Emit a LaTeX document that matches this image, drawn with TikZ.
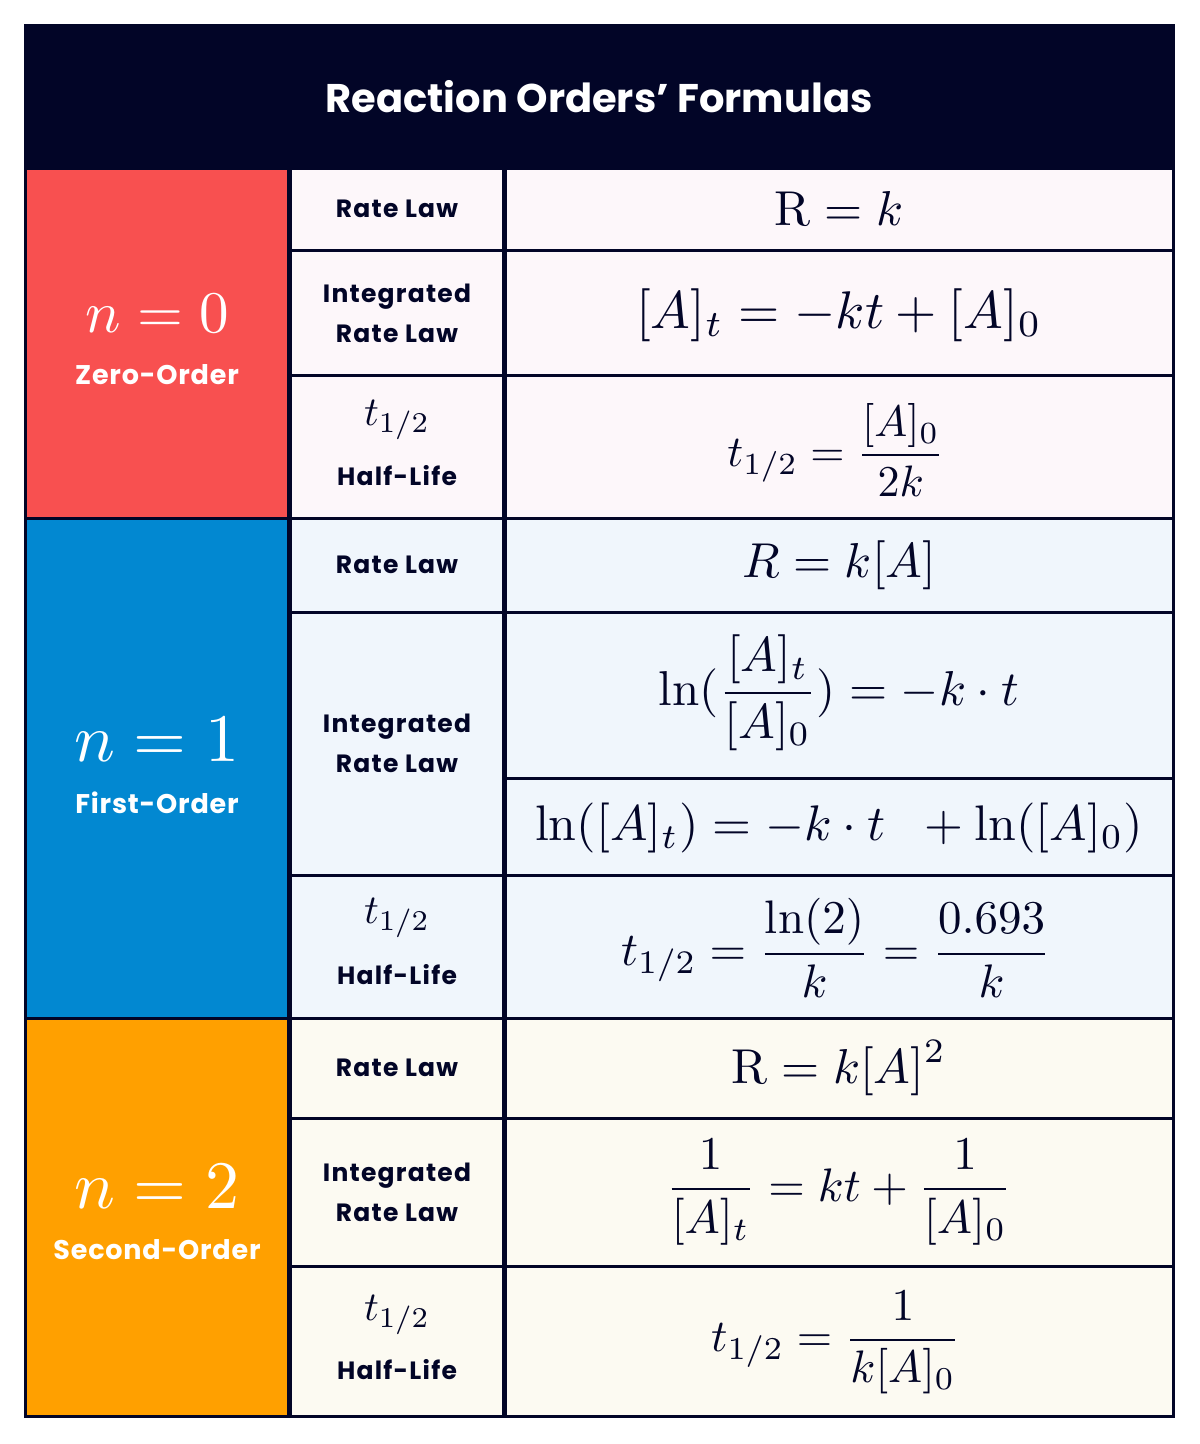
\documentclass[tikz,border=0pt]{standalone}
\usepackage{amsmath}
\usepackage{graphicx}
\usepackage{fontspec}
\setsansfont{Poppins}
\definecolor{navy}{HTML}{020527}
\definecolor{zred}{HTML}{F85050}
\definecolor{fblue}{HTML}{0288D1}
\definecolor{sorange}{HTML}{FFA000}
\definecolor{pinkbg}{HTML}{FDF7FA}
\definecolor{bluebg}{HTML}{F0F6FC}
\definecolor{yelbg}{HTML}{FCFAF2}
\newcommand\SM[2]{\scalebox{#1}{\normalsize$\displaystyle #2$}}
\tikzset{
 cell/.style={draw=navy,line width=3pt},
 lab/.style={font=\sffamily\bfseries\fontsize{25}{40}\selectfont\addfontfeatures{LetterSpace=5},align=center,text=navy},
 frm/.style={text=navy},
 ord/.style={align=center,text=white},
 ordt/.style={text=white,font=\sffamily\bfseries\fontsize{27}{30}\selectfont\addfontfeatures{LetterSpace=3}},
}
\begin{document}
\begin{tikzpicture}[x=1pt,y=-1pt]
\useasboundingbox (0,0) rectangle (1200,1444);
\fill[white] (0,0) rectangle (1200,1444);
\draw[cell,fill=navy] (25,25) rectangle (1173,168);
\node[font=\sffamily\bfseries\fontsize{40}{44}\selectfont,text=white] (title) at (599,97) {Reaction Orders{\char"0027} Formulas};
\draw[cell,fill=zred] (25,168) rectangle (288,518);
\draw[cell,fill=fblue] (25,518) rectangle (288,1018);
\draw[cell,fill=sorange] (25,1018) rectangle (288,1416);
\node[ord] (o0) at (157,313) {\SM{5.9}{n=0}};
\node[ordt] (t0) at (157,375) {Zero-Order};
\node[ord] (o1) at (157,740) {\SM{6.8}{n=1}};
\node[ordt] (t1) at (157,803) {First-Order};
\node[ord] (o2) at (157,1187) {\SM{6.8}{n=2}};
\node[ordt] (t2) at (157,1250) {Second-Order};
\foreach \a/\b in {168/250,250/375,375/518}{
 \draw[cell,fill=pinkbg] (290,\a) rectangle (503,\b);
 \draw[cell,fill=pinkbg] (505,\a) rectangle (1173,\b);}
\foreach \a/\b in {518/612,875/1018}{
 \draw[cell,fill=bluebg] (290,\a) rectangle (503,\b);
 \draw[cell,fill=bluebg] (505,\a) rectangle (1173,\b);}
\draw[cell,fill=bluebg] (290,612) rectangle (503,875);
\draw[cell,fill=bluebg] (505,612) rectangle (1173,778);
\draw[cell,fill=bluebg] (505,778) rectangle (1173,875);
\foreach \a/\b in {1018/1118,1118/1266,1266/1416}{
 \draw[cell,fill=yelbg] (290,\a) rectangle (503,\b);
 \draw[cell,fill=yelbg] (505,\a) rectangle (1173,\b);}
\node[lab] (l01) at (397,209) {Rate Law};
\node[lab] (l02) at (397,313) {Integrated\\Rate Law};
\node[frm] (h0) at (397,420) {\SM{4.1}{t_{1/2}}};
\node[lab] (l03) at (397,476) {Half-Life};
\node[lab] (l11) at (397,565) {Rate Law};
\node[lab] (l12) at (397,743) {Integrated\\Rate Law};
\node[frm] (h1) at (397,918) {\SM{4.1}{t_{1/2}}};
\node[lab] (l13) at (397,975) {Half-Life};
\node[lab] (l21) at (397,1068) {Rate Law};
\node[lab] (l22) at (397,1192) {Integrated\\Rate Law};
\node[frm] (h2) at (397,1315) {\SM{4.1}{t_{1/2}}};
\node[lab] (l23) at (397,1370) {Half-Life};
\node[frm] (f01) at (839,209) {\SM{4.9}{\mathrm{R}=k}};
\node[frm] (f02) at (839,315) {\SM{5.3}{[A]_t=-kt+[A]_0}};
\node[frm] (f03) at (836,450) {\SM{4.4}{t_{1/2}=\frac{[A]_0}{2k}}};
\node[frm] (f11) at (839,565) {\SM{4.9}{R=k[A]}};
\node[frm] (f12) at (839,693) {\SM{4.9}{\ln(\frac{[A]_t}{[A]_0})=-k\cdot t}};
\node[frm] (f13) at (839,828) {\SM{5.0}{\ln([A]_t)=-k\cdot t\;\;+\ln([A]_0)}};
\node[frm] (f14) at (836,948) {\SM{4.7}{t_{1/2}=\frac{\ln(2)}{k}=\frac{0.693}{k}}};
\node[frm] (f21) at (839,1068) {\SM{4.9}{\mathrm{R}=k[A]^2}};
\node[frm] (f22) at (839,1192) {\SM{4.7}{\frac{1}{[A]_t}=kt+\frac{1}{[A]_0}}};
\node[frm] (f23) at (836,1343) {\SM{4.55}{t_{1/2}=\frac{1}{k[A]_0}}};
\end{tikzpicture}
\end{document}
